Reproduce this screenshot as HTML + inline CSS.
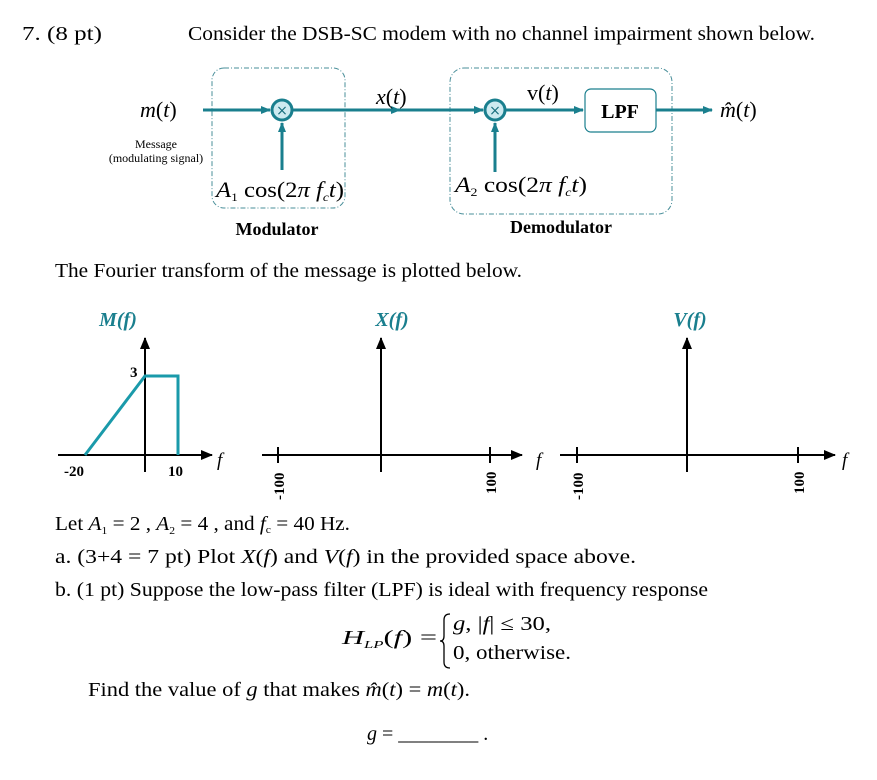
<!DOCTYPE html>
<html><head><meta charset="utf-8"><style>
body{margin:0;background:#fff;}
svg{display:block;font-family:"Liberation Serif",serif;}
</style></head><body>
<svg width="877" height="780" viewBox="0 0 877 780" xmlns="http://www.w3.org/2000/svg">
<defs>
<marker id="ta" markerWidth="10" markerHeight="8" refX="9" refY="4" orient="auto" markerUnits="userSpaceOnUse"><path d="M0,0 L10,4 L0,8 z" fill="#1a7f8e"/></marker>
<marker id="ka" markerWidth="12" markerHeight="10" refX="11" refY="5" orient="auto" markerUnits="userSpaceOnUse"><path d="M0,0 L12,5 L0,10 z" fill="#000"/></marker>
</defs>
<g font-size="20">
<text x="22" y="40" textLength="80" lengthAdjust="spacingAndGlyphs">7.  (8 pt)</text>
<text x="188" y="40" textLength="627" lengthAdjust="spacingAndGlyphs">Consider the DSB-SC modem with no channel impairment shown below.</text>
</g>
<rect x="212" y="68" width="133" height="140" rx="12" fill="none" stroke="#4a8f9a" stroke-dasharray="5,2,1,2" stroke-width="1"/>
<rect x="450" y="68" width="222" height="146" rx="14" fill="none" stroke="#4a8f9a" stroke-dasharray="5,2,1,2" stroke-width="1"/>
<g stroke="#1a7f8e" stroke-width="3" fill="none">
<line x1="203" y1="110" x2="270" y2="110" marker-end="url(#ta)"/>
<line x1="293" y1="110" x2="400" y2="110" marker-end="url(#ta)"/>
<line x1="398" y1="110" x2="483" y2="110" marker-end="url(#ta)"/>
<line x1="506" y1="110" x2="583" y2="110" marker-end="url(#ta)"/>
<line x1="656" y1="110" x2="712" y2="110" marker-end="url(#ta)"/>
<line x1="282" y1="170" x2="282" y2="123" marker-end="url(#ta)"/>
<line x1="495" y1="172" x2="495" y2="123" marker-end="url(#ta)"/>
</g>
<circle cx="282" cy="110" r="10" fill="#cdeaf0" stroke="#1a7f8e" stroke-width="3"/>
<circle cx="495" cy="110" r="10" fill="#cdeaf0" stroke="#1a7f8e" stroke-width="3"/>
<text x="282" y="115" font-size="14" text-anchor="middle" fill="#1a6f7e" font-family="DejaVu Sans">×</text>
<text x="495" y="115" font-size="14" text-anchor="middle" fill="#1a6f7e" font-family="DejaVu Sans">×</text>
<rect x="585" y="89" width="71" height="43" rx="6" fill="#fff" stroke="#1a7f8e" stroke-width="1.2"/>
<text x="620" y="118" font-size="20" font-weight="bold" text-anchor="middle">LPF</text>
<g font-size="22">
<text x="140" y="117" font-style="italic">m<tspan font-style="normal">(</tspan>t<tspan font-style="normal">)</tspan></text>
<text x="376" y="104" font-style="italic">x<tspan font-style="normal">(</tspan>t<tspan font-style="normal">)</tspan></text>
<text x="527" y="100">v(<tspan font-style="italic">t</tspan>)</text>
<text x="720" y="117" font-style="italic">m̂<tspan font-style="normal">(</tspan>t<tspan font-style="normal">)</tspan></text>
<text x="216" y="197" font-style="italic" textLength="128" lengthAdjust="spacingAndGlyphs">A<tspan font-size="12" font-style="normal" dy="4">1</tspan><tspan dy="-4" font-style="normal"> cos(2</tspan>π f<tspan font-size="12" dy="4">c</tspan><tspan dy="-4">t</tspan><tspan font-style="normal">)</tspan></text>
<text x="455" y="192" font-style="italic" textLength="132" lengthAdjust="spacingAndGlyphs">A<tspan font-size="12" font-style="normal" dy="4">2</tspan><tspan dy="-4" font-style="normal"> cos(2</tspan>π f<tspan font-size="12" dy="4">c</tspan><tspan dy="-4">t</tspan><tspan font-style="normal">)</tspan></text>
</g>
<text x="156" y="148" font-size="12" text-anchor="middle">Message</text>
<text x="156" y="162" font-size="12" text-anchor="middle">(modulating signal)</text>
<text x="277" y="235" font-size="18" font-weight="bold" text-anchor="middle">Modulator</text>
<text x="561" y="233" font-size="18" font-weight="bold" text-anchor="middle">Demodulator</text>
<text x="55" y="277" font-size="20" textLength="467" lengthAdjust="spacingAndGlyphs">The Fourier transform of the message is plotted below.</text>
<g font-size="20" font-weight="bold" font-style="italic" fill="#1a7f8e" text-anchor="middle">
<text x="118" y="326">M(f)</text>
<text x="392" y="326">X(f)</text>
<text x="690" y="326">V(f)</text>
</g>
<g stroke="#000" stroke-width="2" fill="none">
<line x1="58" y1="455" x2="212" y2="455" marker-end="url(#ka)"/>
<line x1="145" y1="472" x2="145" y2="338" marker-end="url(#ka)"/>
<line x1="262" y1="455" x2="522" y2="455" marker-end="url(#ka)"/>
<line x1="381" y1="472" x2="381" y2="338" marker-end="url(#ka)"/>
<line x1="278" y1="447" x2="278" y2="463"/>
<line x1="490" y1="447" x2="490" y2="463"/>
<line x1="560" y1="455" x2="835" y2="455" marker-end="url(#ka)"/>
<line x1="687" y1="472" x2="687" y2="338" marker-end="url(#ka)"/>
<line x1="577" y1="447" x2="577" y2="463"/>
<line x1="798" y1="447" x2="798" y2="463"/>
</g>
<polyline points="85,455 145,376 178,376 178,455" fill="none" stroke="#1a9aaa" stroke-width="3"/>
<g font-size="15" font-weight="bold">
<text x="130" y="377">3</text>
<text x="64" y="476">-20</text>
<text x="168" y="476">10</text>
<text transform="translate(284,500) rotate(-90)">-100</text>
<text transform="translate(496,494) rotate(-90)">100</text>
<text transform="translate(583,500) rotate(-90)">-100</text>
<text transform="translate(804,494) rotate(-90)">100</text>
</g>
<g font-size="19" font-style="italic">
<text x="217" y="466">f</text>
<text x="536" y="466">f</text>
<text x="842" y="466">f</text>
</g>
<g font-size="20">
<text x="55" y="530" textLength="295" lengthAdjust="spacingAndGlyphs">Let <tspan font-style="italic">A</tspan><tspan font-size="11" dy="4">1</tspan><tspan dy="-4"> = 2 , </tspan><tspan font-style="italic">A</tspan><tspan font-size="11" dy="4">2</tspan><tspan dy="-4"> = 4 , and </tspan><tspan font-style="italic">f</tspan><tspan font-size="11" dy="3">c</tspan><tspan dy="-3"> = 40 Hz.</tspan></text>
<text x="55" y="563" textLength="581" lengthAdjust="spacingAndGlyphs">a.  (3+4 = 7 pt) Plot <tspan font-style="italic">X</tspan>(<tspan font-style="italic">f</tspan>) and <tspan font-style="italic">V</tspan>(<tspan font-style="italic">f</tspan>) in the provided space above.</text>
<text x="55" y="596" textLength="653" lengthAdjust="spacingAndGlyphs">b.  (1 pt) Suppose the low-pass filter (LPF) is ideal with frequency response</text>
<text x="342" y="644" textLength="95" lengthAdjust="spacingAndGlyphs"><tspan font-style="italic">H</tspan><tspan font-size="11" font-style="italic" dy="4">LP</tspan><tspan dy="-4">(</tspan><tspan font-style="italic">f</tspan>) =</text>
<text x="453" y="630" textLength="98" lengthAdjust="spacingAndGlyphs"><tspan font-style="italic">g</tspan>,   |<tspan font-style="italic">f</tspan>| ≤ 30,</text>
<text x="453" y="659" textLength="118" lengthAdjust="spacingAndGlyphs">0,   otherwise.</text>
<text x="88" y="696" textLength="382" lengthAdjust="spacingAndGlyphs">Find the value of <tspan font-style="italic">g</tspan> that makes <tspan font-style="italic">m̂</tspan>(<tspan font-style="italic">t</tspan>) = <tspan font-style="italic">m</tspan>(<tspan font-style="italic">t</tspan>).</text>
<text x="367" y="740"><tspan font-style="italic">g</tspan> = ________ .</text>
</g>
<path d="M450,614 Q444,614 444,620 L444,636 Q444,641 440,641 Q444,641 444,646 L444,662 Q444,668 450,668" fill="none" stroke="#000" stroke-width="1.3"/>
</svg>
</body></html>
